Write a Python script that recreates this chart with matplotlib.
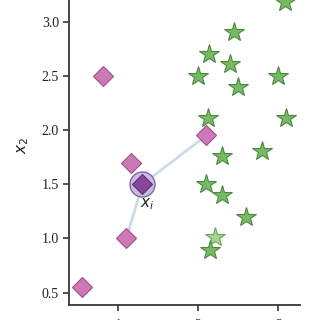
import matplotlib
matplotlib.use("Agg")
import matplotlib.pyplot as plt

# Class A (pink diamonds)
diam_x = [0.81, 1.155, 1.10, 0.55, 2.10]
diam_y = [2.50, 1.70, 1.00, 0.55, 1.95]
# Query point x_i
xi_x = [1.30]
xi_y = [1.50]
# Nearest neighbours connected to x_i
nn_x = [2.10, 1.10]
nn_y = [1.95, 1.00]
# Class B (green stars)
star_x = [3.08, 2.45, 2.13, 2.40, 2.00, 2.50, 3.00, 2.12, 3.10, 2.30, 2.80,
          2.10, 2.30, 2.60, 2.14]
star_y = [3.18, 2.90, 2.70, 2.61, 2.50, 2.40, 2.50, 2.11, 2.11, 1.76, 1.81,
          1.50, 1.40, 1.20, 0.89]
light_star_x = [2.21]
light_star_y = [1.01]

xticks = [1, 2, 3]
yticks = [0.5, 1.0, 1.5, 2.0, 2.5, 3.0]
ytick_labels = ["0.5", "1.0", "1.5", "2.0", "2.5", "3.0"]

plt.rcParams['font.family'] = ['Liberation Serif', 'DejaVu Serif']

fig = plt.figure(figsize=(3.2, 3.2), dpi=100)
ax = fig.add_axes([0.2166, 0.047, 0.7209, 0.987])
ax.set_xlim(0.3875, 3.27)
ax.set_ylim(0.387, 3.30)

for sp in ['top', 'right']:
    ax.spines[sp].set_visible(False)
for sp in ['left', 'bottom']:
    ax.spines[sp].set_color('#3d3535')
    ax.spines[sp].set_linewidth(1.3)

# connecting lines
for nx, ny in zip(nn_x, nn_y):
    ax.plot([xi_x[0], nx], [xi_y[0], ny], color='#cadcea', lw=2.0, zorder=1)

ax.plot(light_star_x, light_star_y, linestyle='none', marker='*', ms=15,
        mfc='#a9d393', mec='#6aa55a', mew=0.8, zorder=2)
ax.plot(star_x, star_y, linestyle='none', marker='*', ms=15,
        mfc='#79b964', mec='#4a8a3c', mew=0.8, zorder=3)
ax.plot(diam_x, diam_y, linestyle='none', marker='D', ms=10.5,
        mfc='#cc79b6', mec='#a04f8e', mew=0.8, zorder=3)
ax.plot(xi_x, xi_y, linestyle='none', marker='o', ms=18,
        mfc='#cbbde0', mec='#7a66a8', mew=1.0, zorder=4)
ax.plot(xi_x, xi_y, linestyle='none', marker='D', ms=10,
        mfc='#86489c', mec='#5e2f72', mew=0.8, zorder=5)

ax.text(xi_x[0] + 0.06, xi_y[0] - 0.18, r'$x_i$', fontsize=11,
        ha='center', va='center', color='#222222')

ax.set_xticks(xticks)
ax.set_xticklabels([str(t) for t in xticks])
ax.set_yticks(yticks)
ax.set_yticklabels(ytick_labels)
ax.tick_params(axis='both', direction='out', length=4, width=1.2,
               color='#3d3535', labelsize=10, labelcolor='#222222')
ax.tick_params(axis='x', pad=6)

fig.text(0.072, 0.545, r'$x_2$', rotation=90, fontsize=11,
         ha='center', va='center', color='#222222')

fig.savefig('out.png', dpi=100)
